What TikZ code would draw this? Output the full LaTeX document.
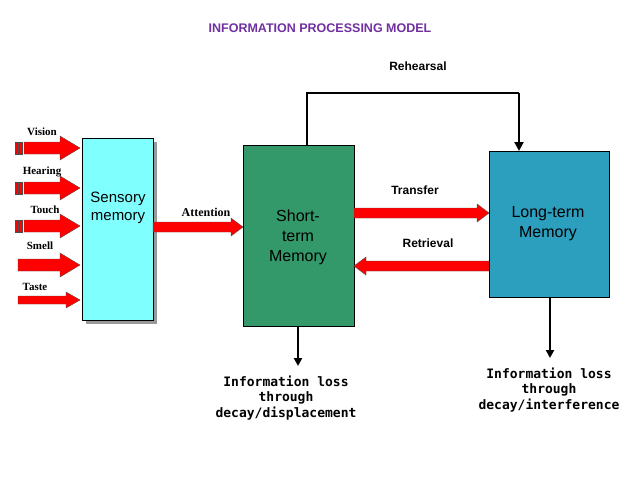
\documentclass[tikz,border=0pt]{standalone}
\usepackage{fontspec}
\setmainfont{Liberation Sans}
\usetikzlibrary{positioning}
\usetikzlibrary{arrows.meta}

\definecolor{stmgreen}{HTML}{33996A}
\definecolor{ltmblue}{HTML}{2C9FBF}
\definecolor{sencyan}{HTML}{80FFFF}
\definecolor{titlepurple}{HTML}{7030A0}

% fat arrow: start, length, shaft half, head half, head length
\newcommand\fatarrow[5]{%
	\draw[fat] (#1) ++(0,-#3) -- ++(#2-#5,0) -- ++(0,#3-#4) -- ++(#5,#4) -- ++(-#5,#4) -- ++(0,#3-#4) -- ++(-#2+#5,0) -- cycle;}

\begin{document}
\begin{tikzpicture}
		[x=1pt, y=-1pt,
		box/.style={draw=black, anchor=north west, inner sep=0pt},
		fat/.style={draw=black!70, fill=red, line join=miter},
		stripe/.style={draw=black!70, fill=red, minimum width=3pt, minimum height=12pt, inner sep=0pt},
		sense/.style={font=\fontspec{Liberation Serif}\bfseries\fontsize{11}{13}\selectfont},
		lbl/.style={font=\bfseries\fontsize{12}{14}\selectfont},
		loss/.style={font=\fontspec{DejaVu Sans Mono}\bfseries\fontsize{13}{15.5}\selectfont, align=center}]
		\useasboundingbox (0,0) rectangle (638,479);
		\node[font=\bfseries\fontsize{12.5}{15}\selectfont, text=titlepurple] (title) at (320,28) {INFORMATION PROCESSING MODEL};

		% memory boxes
		\fill[black!40] (86,142) rectangle (157,324);
		\node[box, fill=sencyan, minimum width=71pt, minimum height=182pt] (sm) at (82,138) {};
		\node[font=\fontsize{15}{18}\selectfont, align=center] (smt) at (118,208) {Sensory\\memory};
		\node[box, fill=stmgreen, minimum width=111pt, minimum height=181pt] (stm) at (243,145) {};
		\node[font=\fontsize{16}{20}\selectfont, align=center] (stmt) at (298,237) {Short-\\term\\Memory};
		\node[box, fill=ltmblue, minimum width=120pt, minimum height=146pt] (ltm) at (489,151) {};
		\node[font=\fontsize{16}{20}\selectfont, align=center] (ltmt) at (548,224) {Long-term\\Memory};

		% senses
		\foreach \y/\name/\lx in {148/Vision/42, 188/Hearing/42, 226/Touch/45} {
			\node[stripe] (s1\name) at (17,\y) {};
			\node[stripe] (s2\name) at (21,\y) {};
			\coordinate (a\name) at (24,\y);
			\fatarrow{a\name}{56}{6}{12}{20}
			\node[sense] (t\name) at (\lx,\y-16) {\name};
		}
		\coordinate (aSmell) at (18,265);
		\fatarrow{aSmell}{62}{6}{12}{20}
		\node[sense] (tSmell) at (40,246) {Smell};
		\coordinate (aTaste) at (18,300);
		\fatarrow{aTaste}{62}{4}{8}{14}
		\node[sense] (tTaste) at (35,287) {Taste};

		% attention, transfer, retrieval
		\coordinate (att) at (153,227);
		\fatarrow{att}{90}{5}{9}{12}
		\node[sense, font=\fontspec{Liberation Serif}\bfseries\fontsize{12}{14}\selectfont] (attt) at (206,212) {Attention};
		\coordinate (tr) at (354,213);
		\fatarrow{tr}{135}{5}{9}{12}
		\node[lbl] (trt) at (415,190) {Transfer};
		\coordinate (re) at (489,266);
		\fatarrow{re}{-135}{5}{9}{-12}
		\node[lbl] (ret) at (428,243) {Retrieval};

		% rehearsal
		\coordinate (r1) at (307,93);
		\coordinate (r2) at (519,93);
		\draw[line width=2pt] (stm.north -| r1) -- (r1) -- (r2);
		\draw[line width=2pt, -{Triangle[length=9pt, width=9pt]}] (r2) -- (ltm.north -| r2);
		\node[lbl] (reht) at (418,66) {Rehearsal};

		% losses
		\coordinate (l1) at (298,366);
		\coordinate (l2) at (550,358);
		\draw[line width=2pt, -{Triangle[length=8pt, width=8pt]}] (stm.south -| l1) -- (l1);
		\draw[line width=2pt, -{Triangle[length=8pt, width=8pt]}] (ltm.south -| l2) -- (l2);
		\node[loss] (loss1) at (286,398) {Information loss\\through\\decay/displacement};
		\node[loss] (loss2) at (549,390) {Information loss\\through\\decay/interference};
	\end{tikzpicture}
\end{document}
